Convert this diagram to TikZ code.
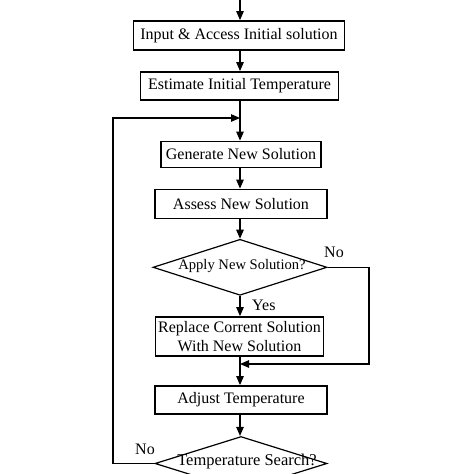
\documentclass[tikz,border=0pt]{standalone}
\usepackage{fontspec}
\setmainfont{Liberation Serif}
\usetikzlibrary{shapes.geometric,arrows.meta}
\begin{document}
\begin{tikzpicture}[x=1pt,y=-1pt,
  every node/.style={font=\fontsize{16}{18.5}\selectfont, inner sep=0pt},
  procbox/.style={draw, line width=1.8pt, rectangle, align=center},
  decision/.style={draw, line width=1.2pt, diamond, aspect=3.1, inner sep=0pt},
  flow/.style={line width=1.1pt, -{Triangle[length=9pt,width=7.5pt]}},
  plain/.style={line width=1.1pt},
  lbl/.style={font=\fontsize{16}{18}\selectfont}]
\useasboundingbox (0,0) rectangle (474,474);
\clip (0,0) rectangle (474,474);
\fill[white] (0,0) rectangle (474,474);

\coordinate (top) at (240,0);
\node[procbox, minimum width=211pt, minimum height=29pt] (b1) at (239,35.5) {Input \& Access Initial solution};
\node[procbox, minimum width=198pt, minimum height=28pt] (b2) at (239.5,86) {Estimate Initial Temperature};
\coordinate (m1) at (240,118);
\node[procbox, minimum width=160pt, minimum height=26pt] (b3) at (241,154.5) {Generate New Solution};
\node[procbox, minimum width=172pt, minimum height=29pt] (b4) at (241,204) {Assess New Solution};
\node[decision, minimum width=174pt, minimum height=56pt] (d1) at (240,267.3) {};
\node[font=\fontsize{14.6}{16}\selectfont] (d1t) at (242,266) {Apply New Solution?};
\node[procbox, minimum width=168pt, minimum height=39pt] (b5) at (239.5,336.5) {Replace Corrent Solution\\With New Solution};
\coordinate (m2) at (240,364);
\node[procbox, minimum width=172pt, minimum height=28pt] (b6) at (241,400) {Adjust Temperature};
\node[decision, minimum width=172pt, minimum height=54pt] (d2) at (241,463.5) {};
\node[font=\fontsize{16.5}{18}\selectfont] (d2t) at (247,462) {Temperature Search?};

\coordinate (r1) at (369,267.3);
\coordinate (r2) at (369,364);
\coordinate (l1) at (113,463.5);
\coordinate (l2) at (113,118);

\draw[flow] (top) -- (b1.north -| top);
\draw[flow] (b1.south -| top) -- (b2.north -| top);
\draw[plain] (b2.south -| m1) -- (m1);
\draw[flow] (m1) -- (b3.north -| m1);
\draw[flow] (b3.south -| m1) -- (b4.north -| m1);
\draw[flow] (b4.south -| m1) -- (d1.north);
\draw[flow] (d1.south) -- (b5.north -| d1.south);
\draw[plain] (b5.south -| m2) -- (m2);
\draw[flow] (m2) -- (b6.north -| m2);
\draw[flow] (b6.south -| m2) -- (d2.north -| m2);

\draw[flow] (d1.east) -- (r1) -- (r2) -- (m2);
\draw[flow] (d2.west) -- (l1) -- (l2) -- (m1);

\node[lbl, anchor=base west] (no1) at (324,257.5) {No};
\node[lbl, anchor=base west] (yes1) at (252,310) {Yes};
\node[lbl, anchor=base west] (no2) at (135,454) {No};
\end{tikzpicture}
\end{document}
